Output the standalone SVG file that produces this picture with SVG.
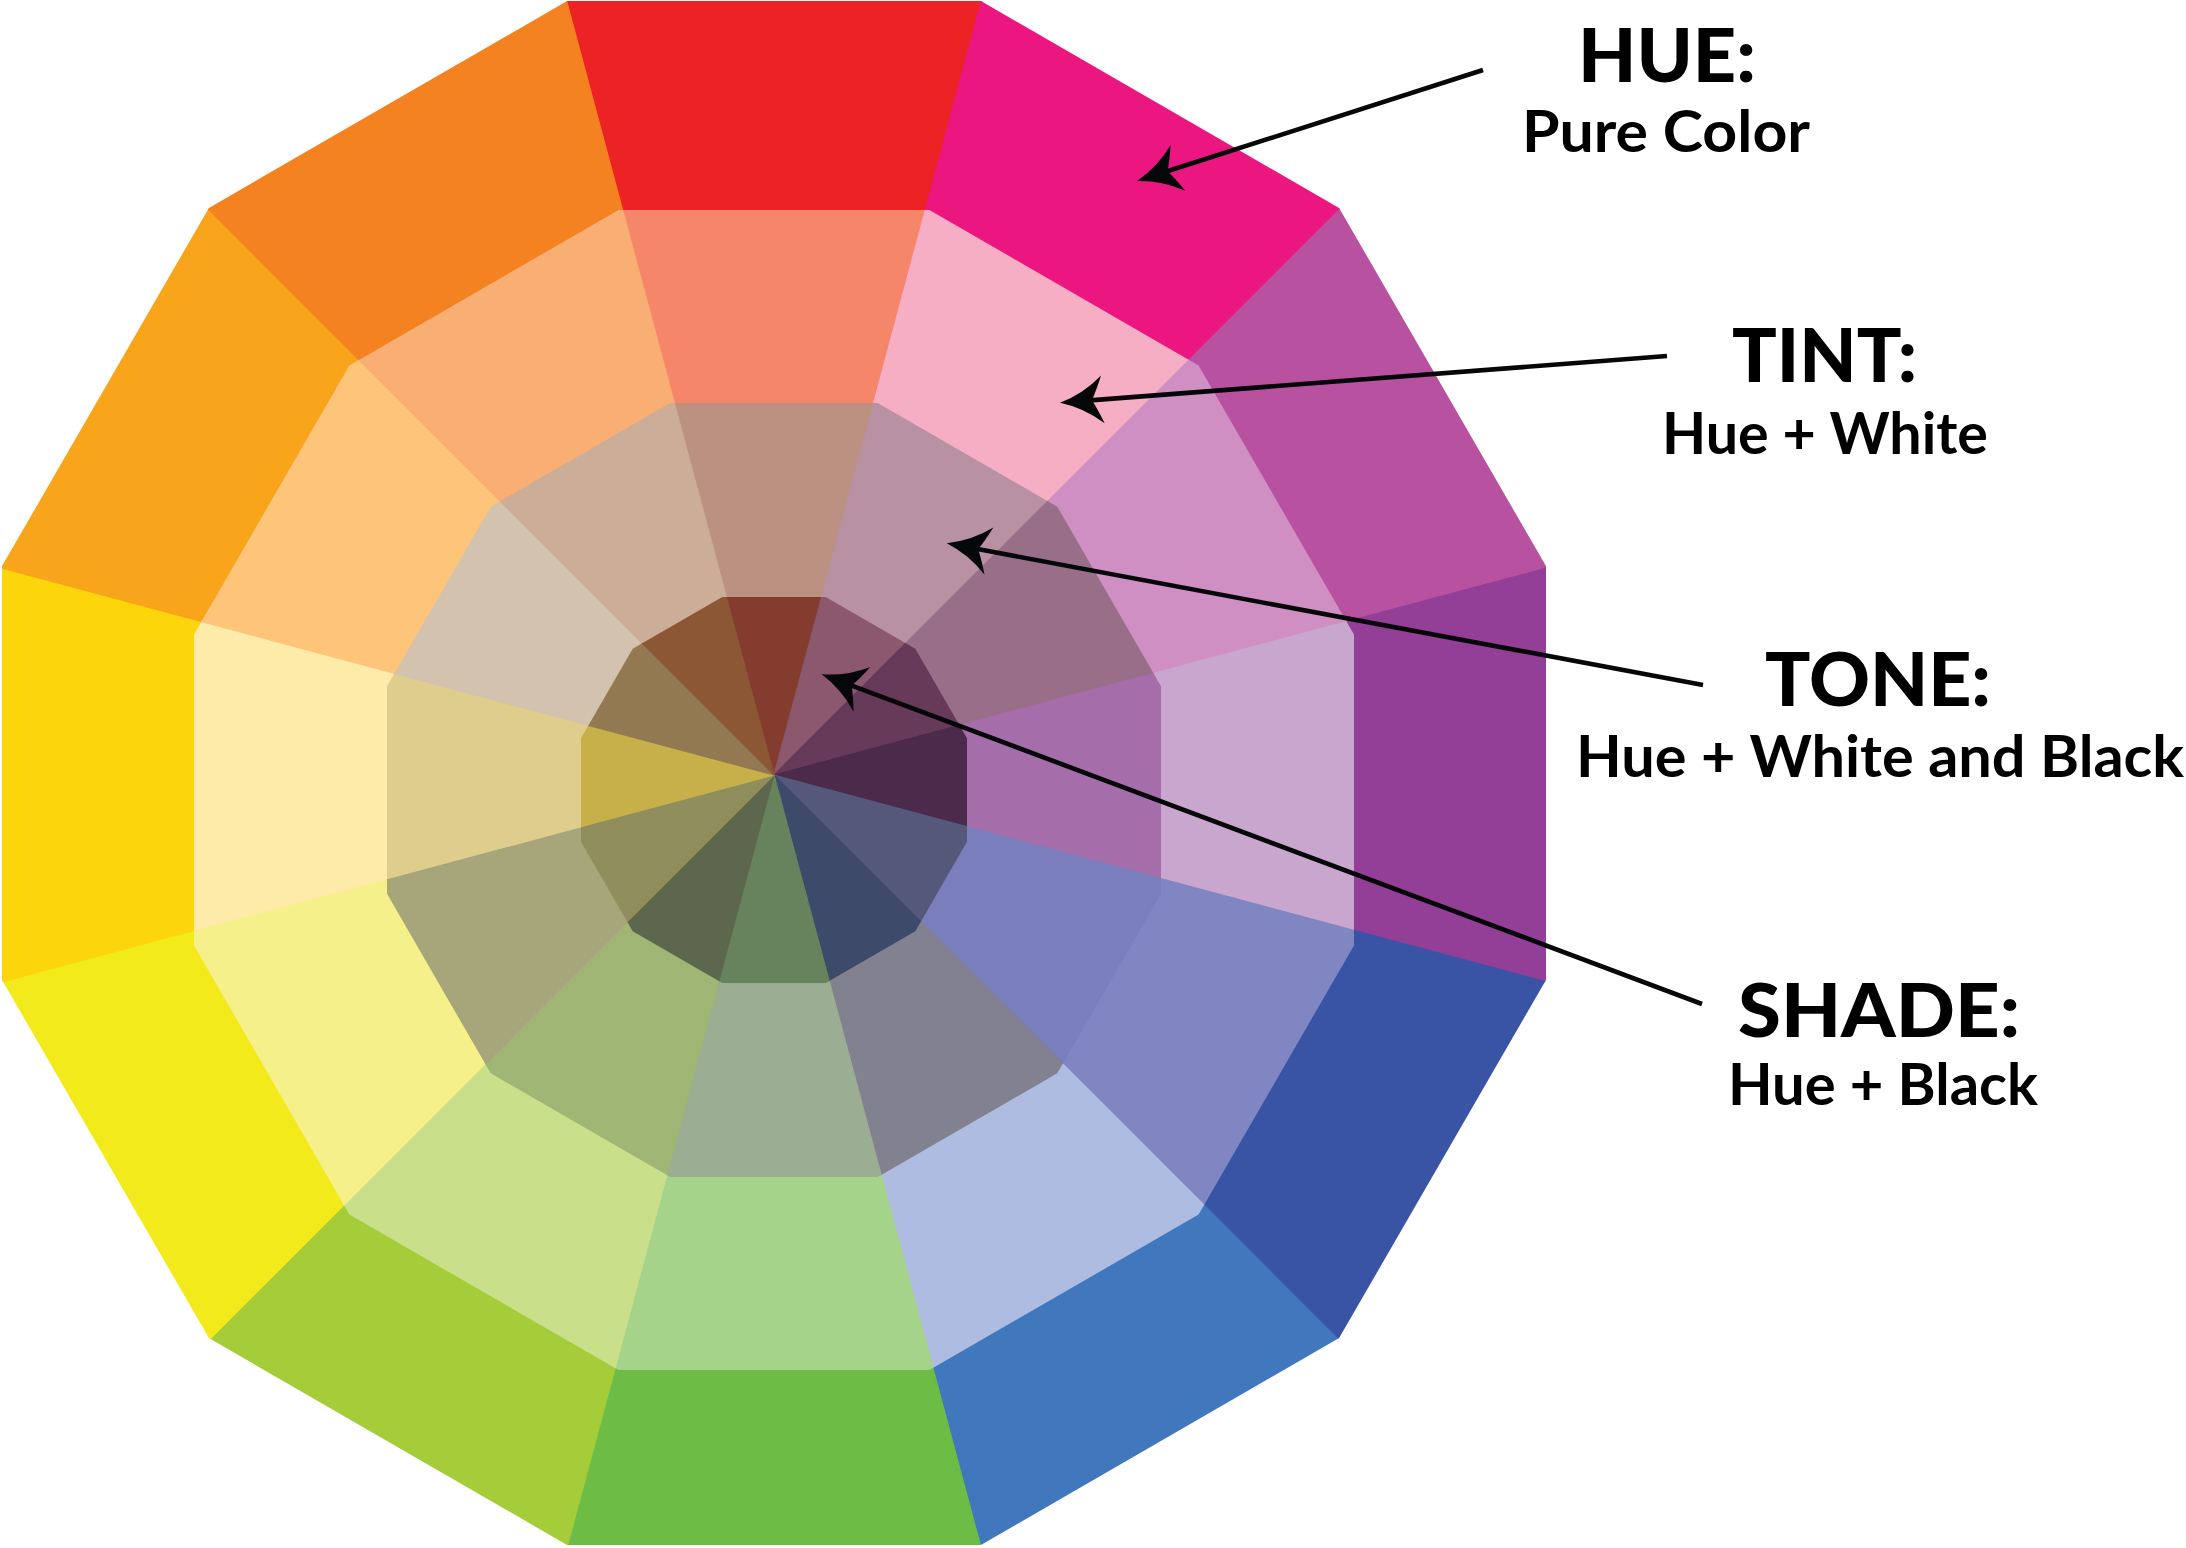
<svg xmlns="http://www.w3.org/2000/svg" width="2186" height="1548" viewBox="0 0 2186 1548">
<style>
.seg polygon{stroke-width:1.2;stroke-linejoin:round}
.conn line{stroke:#050708;stroke-width:4.6;fill:none;marker-end:url(#arrowhead)}
.head{font-family:Lato,"Open Sans","Liberation Sans",sans-serif;font-weight:900;font-size:75px;fill:#000;text-anchor:start}
.sub{font-family:Lato,"Open Sans","Liberation Sans",sans-serif;font-weight:700;font-size:57px;fill:#000;text-anchor:start}
</style>
<defs>
<clipPath id="clip-hue"><polygon points="567.1,1 980.9,1 1339.1,207.9 1546,566.1 1546,979.9 1339.1,1338.1 980.9,1545 567.1,1545 208.9,1338.1 2,979.9 2,566.1 208.9,207.9"/></clipPath>
<clipPath id="clip-tint"><polygon points="618.6,210 929.4,210 1198.6,365.4 1354,634.6 1354,945.4 1198.6,1214.6 929.4,1370 618.6,1370 349.4,1214.6 194,945.4 194,634.6 349.4,365.4"/></clipPath>
<clipPath id="clip-tone"><polygon points="670.3,403 877.7,403 1057.3,506.7 1161,686.3 1161,893.7 1057.3,1073.3 877.7,1177 670.3,1177 490.7,1073.3 387,893.7 387,686.3 490.7,506.7"/></clipPath>
<clipPath id="clip-shade"><polygon points="722.3,597 825.7,597 915.3,648.7 967,738.3 967,841.7 915.3,931.3 825.7,983 722.3,983 632.7,931.3 581,841.7 581,738.3 632.7,648.7"/></clipPath>
<marker id="arrowhead" markerUnits="userSpaceOnUse" viewBox="-50 -30 60 60" markerWidth="60" markerHeight="60" refX="-30" refY="0" orient="auto" overflow="visible">
<path d="M0,0 Q-24,-7 -43,-24 Q-37,-9 -32,0 Q-37,9 -43,24 Q-24,7 0,0 Z" fill="#050708"/>
</marker>
</defs>
<rect width="2186" height="1548" fill="#fff"/>
<g id="wheel">
<g id="ring-hue" class="seg" clip-path="url(#clip-hue)">
<polygon points="774,775 515.2,-190.9 1032.8,-190.9" style="fill:#ED2224;stroke:#ED2224"/>
<polygon points="774,775 1032.8,-190.9 1481.1,67.9" style="fill:#EC1680;stroke:#EC1680"/>
<polygon points="774,775 1481.1,67.9 1739.9,516.2" style="fill:#B8519F;stroke:#B8519F"/>
<polygon points="774,775 1739.9,516.2 1739.9,1033.8" style="fill:#933F97;stroke:#933F97"/>
<polygon points="774,775 1739.9,1033.8 1481.1,1482.1" style="fill:#3953A5;stroke:#3953A5"/>
<polygon points="774,775 1481.1,1482.1 1032.8,1740.9" style="fill:#4077BD;stroke:#4077BD"/>
<polygon points="774,775 1032.8,1740.9 515.2,1740.9" style="fill:#6CBC45;stroke:#6CBC45"/>
<polygon points="774,775 515.2,1740.9 66.9,1482.1" style="fill:#A5CD39;stroke:#A5CD39"/>
<polygon points="774,775 66.9,1482.1 -191.9,1033.8" style="fill:#F2EA1B;stroke:#F2EA1B"/>
<polygon points="774,775 -191.9,1033.8 -191.9,516.2" style="fill:#FDD50B;stroke:#FDD50B"/>
<polygon points="774,775 -191.9,516.2 66.9,67.9" style="fill:#F9A51B;stroke:#F9A51B"/>
<polygon points="774,775 66.9,67.9 515.2,-190.9" style="fill:#F58220;stroke:#F58220"/>
</g>
<g id="ring-tint" class="seg" clip-path="url(#clip-tint)">
<polygon points="774,775 515.2,-190.9 1032.8,-190.9" style="fill:#F5866A;stroke:#F5866A"/>
<polygon points="774,775 1032.8,-190.9 1481.1,67.9" style="fill:#F6AEC5;stroke:#F6AEC5"/>
<polygon points="774,775 1481.1,67.9 1739.9,516.2" style="fill:#D08FC2;stroke:#D08FC2"/>
<polygon points="774,775 1739.9,516.2 1739.9,1033.8" style="fill:#C9A6CE;stroke:#C9A6CE"/>
<polygon points="774,775 1739.9,1033.8 1481.1,1482.1" style="fill:#8086C2;stroke:#8086C2"/>
<polygon points="774,775 1481.1,1482.1 1032.8,1740.9" style="fill:#AEBCE1;stroke:#AEBCE1"/>
<polygon points="774,775 1032.8,1740.9 515.2,1740.9" style="fill:#A6D38A;stroke:#A6D38A"/>
<polygon points="774,775 515.2,1740.9 66.9,1482.1" style="fill:#C9DF8A;stroke:#C9DF8A"/>
<polygon points="774,775 66.9,1482.1 -191.9,1033.8" style="fill:#F6F08A;stroke:#F6F08A"/>
<polygon points="774,775 -191.9,1033.8 -191.9,516.2" style="fill:#FEEAA9;stroke:#FEEAA9"/>
<polygon points="774,775 -191.9,516.2 66.9,67.9" style="fill:#FEC57A;stroke:#FEC57A"/>
<polygon points="774,775 66.9,67.9 515.2,-190.9" style="fill:#F9AE74;stroke:#F9AE74"/>
</g>
<g id="ring-tone" class="seg" clip-path="url(#clip-tone)">
<polygon points="774,775 515.2,-190.9 1032.8,-190.9" style="fill:#BB9182;stroke:#BB9182"/>
<polygon points="774,775 1032.8,-190.9 1481.1,67.9" style="fill:#B892A2;stroke:#B892A2"/>
<polygon points="774,775 1481.1,67.9 1739.9,516.2" style="fill:#986E88;stroke:#986E88"/>
<polygon points="774,775 1739.9,516.2 1739.9,1033.8" style="fill:#A66DAB;stroke:#A66DAB"/>
<polygon points="774,775 1739.9,1033.8 1481.1,1482.1" style="fill:#7A7EBC;stroke:#7A7EBC"/>
<polygon points="774,775 1481.1,1482.1 1032.8,1740.9" style="fill:#82818F;stroke:#82818F"/>
<polygon points="774,775 1032.8,1740.9 515.2,1740.9" style="fill:#9BAD92;stroke:#9BAD92"/>
<polygon points="774,775 515.2,1740.9 66.9,1482.1" style="fill:#9FB674;stroke:#9FB674"/>
<polygon points="774,775 66.9,1482.1 -191.9,1033.8" style="fill:#A7A57A;stroke:#A7A57A"/>
<polygon points="774,775 -191.9,1033.8 -191.9,516.2" style="fill:#DFCD8E;stroke:#DFCD8E"/>
<polygon points="774,775 -191.9,516.2 66.9,67.9" style="fill:#D3C2AE;stroke:#D3C2AE"/>
<polygon points="774,775 66.9,67.9 515.2,-190.9" style="fill:#CBAD98;stroke:#CBAD98"/>
</g>
<g id="ring-shade" class="seg" clip-path="url(#clip-shade)">
<polygon points="774,775 515.2,-190.9 1032.8,-190.9" style="fill:#843C2F;stroke:#843C2F"/>
<polygon points="774,775 1032.8,-190.9 1481.1,67.9" style="fill:#8C586D;stroke:#8C586D"/>
<polygon points="774,775 1481.1,67.9 1739.9,516.2" style="fill:#673A5A;stroke:#673A5A"/>
<polygon points="774,775 1739.9,516.2 1739.9,1033.8" style="fill:#4C2A4B;stroke:#4C2A4B"/>
<polygon points="774,775 1739.9,1033.8 1481.1,1482.1" style="fill:#56587A;stroke:#56587A"/>
<polygon points="774,775 1481.1,1482.1 1032.8,1740.9" style="fill:#3D4A6A;stroke:#3D4A6A"/>
<polygon points="774,775 1032.8,1740.9 515.2,1740.9" style="fill:#67835E;stroke:#67835E"/>
<polygon points="774,775 515.2,1740.9 66.9,1482.1" style="fill:#5D674D;stroke:#5D674D"/>
<polygon points="774,775 66.9,1482.1 -191.9,1033.8" style="fill:#918E5D;stroke:#918E5D"/>
<polygon points="774,775 -191.9,1033.8 -191.9,516.2" style="fill:#C7AF4A;stroke:#C7AF4A"/>
<polygon points="774,775 -191.9,516.2 66.9,67.9" style="fill:#927951;stroke:#927951"/>
<polygon points="774,775 66.9,67.9 515.2,-190.9" style="fill:#8B5735;stroke:#8B5735"/>
</g>
</g>
<g id="connectors" class="conn">
<line x1="1483" y1="70" x2="1165.6" y2="171.8"/>
<line x1="1667" y1="356" x2="1089.9" y2="400.4"/>
<line x1="1703" y1="685" x2="976.2" y2="548.8"/>
<line x1="1702" y1="1004" x2="849.8" y2="684.8"/>
</g>
<g id="label-hue">
<text class="head" x="1578" y="82" textLength="178" lengthAdjust="spacingAndGlyphs">HUE:</text>
<text class="sub" x="1522" y="152" textLength="288" lengthAdjust="spacingAndGlyphs">Pure Color</text>
</g>
<g id="label-tint">
<text class="head" x="1732" y="382" textLength="185" lengthAdjust="spacingAndGlyphs">TINT:</text>
<text class="sub" x="1662" y="454" textLength="326" lengthAdjust="spacingAndGlyphs">Hue + White</text>
</g>
<g id="label-tone">
<text class="head" x="1765" y="706" textLength="226" lengthAdjust="spacingAndGlyphs">TONE:</text>
<text class="sub" x="1576" y="777" textLength="608" lengthAdjust="spacingAndGlyphs">Hue + White and Black</text>
</g>
<g id="label-shade">
<text class="head" x="1738" y="1037" textLength="282" lengthAdjust="spacingAndGlyphs">SHADE:</text>
<text class="sub" x="1728" y="1105" textLength="310" lengthAdjust="spacingAndGlyphs">Hue + Black</text>
</g>
</svg>
